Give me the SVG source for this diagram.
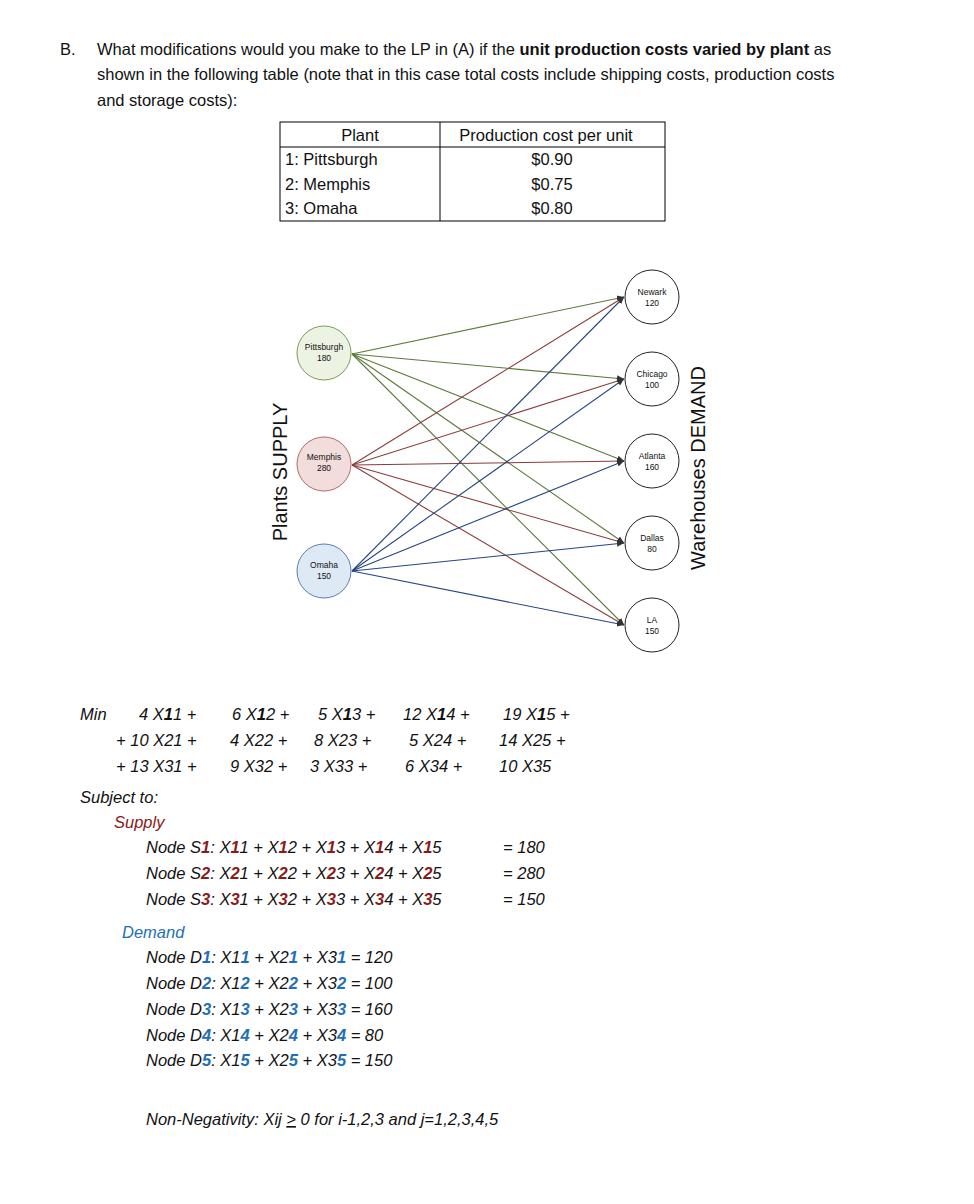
<svg xmlns="http://www.w3.org/2000/svg" width="974" height="1204" viewBox="0 0 974 1204">
<style>
text{font-family:"Liberation Sans",Arial,sans-serif;fill:#111}
.t{font-size:16.5px}
.i{font-size:16.5px;font-style:italic}
.b{font-weight:bold}
.r{fill:#8b1a1a;font-weight:bold}
.u{fill:#1f6fb5;font-weight:bold}
.n{font-size:8.5px;text-anchor:middle}
.g{stroke-width:1.1;fill:none}
</style>
<defs>
<marker id="a" markerWidth="8" markerHeight="8" refX="7" refY="4" orient="auto" markerUnits="userSpaceOnUse"><path d="M0,1 L7,4 L0,7z" fill="#333"/></marker>
</defs>
<rect width="974" height="1204" fill="#fff"/>
<text class="t" x="60" y="55">B.</text>
<text class="t" x="97" y="55">What modifications would you make to the LP in (A) if the <tspan class="b">unit production costs varied by plant</tspan> as</text>
<text class="t" x="97" y="80">shown in the following table (note that in this case total costs include shipping costs, production costs</text>
<text class="t" x="97" y="106">and storage costs):</text>
<g id="table" fill="none" stroke="#000" stroke-width="1">
<rect x="280" y="122" width="385" height="99"/>
<line x1="440" y1="122" x2="440" y2="221"/>
<line x1="280" y1="147" x2="665" y2="147"/>
</g>
<g class="t">
<text class="t" x="360" y="141" text-anchor="middle">Plant</text>
<text class="t" x="546" y="141" text-anchor="middle">Production cost per unit</text>
<text class="t" x="285" y="165">1: Pittsburgh</text>
<text class="t" x="285" y="190">2: Memphis</text>
<text class="t" x="285" y="214">3: Omaha</text>
<text class="t" x="552" y="165" text-anchor="middle">$0.90</text>
<text class="t" x="552" y="190" text-anchor="middle">$0.75</text>
<text class="t" x="552" y="214" text-anchor="middle">$0.80</text>
</g>
<g id="connectors" marker-end="url(#a)">
<g stroke="#5e7a3c" class="g">
<path d="M352,354 L624,297"/><path d="M352,354 L624,379"/><path d="M352,354 L624,461"/><path d="M352,354 L624,543"/><path d="M352,354 L624,625"/>
</g>
<g stroke="#8a3b3b" class="g">
<path d="M352,465 L624,297"/><path d="M352,465 L624,379"/><path d="M352,465 L624,461"/><path d="M352,465 L624,543"/><path d="M352,465 L624,625"/>
</g>
<g stroke="#27467f" class="g">
<path d="M352,571 L624,297"/><path d="M352,571 L624,379"/><path d="M352,571 L624,461"/><path d="M352,571 L624,543"/><path d="M352,571 L624,625"/>
</g>
</g>
<g id="pittsburgh"><circle cx="324" cy="353" r="27" fill="#edf3e3" stroke="#7a9a5a"/><text class="n" x="324" y="350">Pittsburgh</text><text class="n" x="324" y="361">180</text></g>
<g id="memphis"><circle cx="324" cy="464" r="27" fill="#f3dcdc" stroke="#b06a6a"/><text class="n" x="324" y="460">Memphis</text><text class="n" x="324" y="471">280</text></g>
<g id="omaha"><circle cx="324" cy="571" r="27" fill="#dde9f5" stroke="#5a7fa8"/><text class="n" x="324" y="568">Omaha</text><text class="n" x="324" y="579">150</text></g>
<g id="newark"><circle cx="652" cy="297" r="27" fill="#fff" stroke="#222"/><text class="n" x="652" y="295">Newark</text><text class="n" x="652" y="306">120</text></g>
<g id="chicago"><circle cx="652" cy="379" r="27" fill="#fff" stroke="#222"/><text class="n" x="652" y="377">Chicago</text><text class="n" x="652" y="388">100</text></g>
<g id="atlanta"><circle cx="652" cy="461" r="27" fill="#fff" stroke="#222"/><text class="n" x="652" y="459">Atlanta</text><text class="n" x="652" y="470">160</text></g>
<g id="dallas"><circle cx="652" cy="543" r="27" fill="#fff" stroke="#222"/><text class="n" x="652" y="541">Dallas</text><text class="n" x="652" y="552">80</text></g>
<g id="la"><circle cx="652" cy="625" r="27" fill="#fff" stroke="#222"/><text class="n" x="652" y="623">LA</text><text class="n" x="652" y="634">150</text></g>
<text x="282" y="472" font-size="20" text-anchor="middle" transform="rotate(-90 282 472)" dominant-baseline="middle">Plants SUPPLY</text>
<text x="700" y="468" font-size="20" text-anchor="middle" transform="rotate(-90 700 468)" dominant-baseline="middle">Warehouses DEMAND</text>
<g class="i">
<text class="i" x="80" y="720">Min</text>
<text class="i" x="139" y="720">4 X<tspan class="b">1</tspan>1 +</text>
<text class="i" x="232" y="720">6 X<tspan class="b">1</tspan>2 +</text>
<text class="i" x="318" y="720">5 X<tspan class="b">1</tspan>3 +</text>
<text class="i" x="403" y="720">12 X<tspan class="b">1</tspan>4 +</text>
<text class="i" x="503" y="720">19 X<tspan class="b">1</tspan>5 +</text>
<text class="i" x="116" y="746">+  10 X21 +</text>
<text class="i" x="230" y="746">4 X22 +</text>
<text class="i" x="314" y="746">8 X23 +</text>
<text class="i" x="409" y="746">5 X24 +</text>
<text class="i" x="499" y="746">14 X25 +</text>
<text class="i" x="116" y="772">+  13 X31 +</text>
<text class="i" x="230" y="772">9 X32 +</text>
<text class="i" x="310" y="772">3 X33 +</text>
<text class="i" x="405" y="772">6 X34 +</text>
<text class="i" x="499" y="772">10 X35</text>
<text class="i" x="80" y="803">Subject to:</text>
<text class="i" x="114" y="828" fill="#8b1a1a" style="fill:#8b1a1a">Supply</text>
<text class="i" x="146" y="853">Node S<tspan class="r">1</tspan>:  X<tspan class="r">1</tspan>1 + X<tspan class="r">1</tspan>2 + X<tspan class="r">1</tspan>3 + X<tspan class="r">1</tspan>4 + X<tspan class="r">1</tspan>5</text>
<text class="i" x="146" y="879">Node S<tspan class="r">2</tspan>:  X<tspan class="r">2</tspan>1 + X<tspan class="r">2</tspan>2 + X<tspan class="r">2</tspan>3 + X<tspan class="r">2</tspan>4 + X<tspan class="r">2</tspan>5</text>
<text class="i" x="146" y="905">Node S<tspan class="r">3</tspan>:  X<tspan class="r">3</tspan>1 + X<tspan class="r">3</tspan>2 + X<tspan class="r">3</tspan>3 + X<tspan class="r">3</tspan>4 + X<tspan class="r">3</tspan>5</text>
<text class="i" x="503" y="853">= 180</text>
<text class="i" x="503" y="879">= 280</text>
<text class="i" x="503" y="905">= 150</text>
<text class="i" x="122" y="938" style="fill:#1f6fb5">Demand</text>
<text class="i" x="146" y="963">Node D<tspan class="u">1</tspan>: X1<tspan class="u">1</tspan> + X2<tspan class="u">1</tspan> + X3<tspan class="u">1</tspan> = 120</text>
<text class="i" x="146" y="989">Node D<tspan class="u">2</tspan>: X1<tspan class="u">2</tspan> + X2<tspan class="u">2</tspan> + X3<tspan class="u">2</tspan> = 100</text>
<text class="i" x="146" y="1015">Node D<tspan class="u">3</tspan>: X1<tspan class="u">3</tspan> + X2<tspan class="u">3</tspan> + X3<tspan class="u">3</tspan> = 160</text>
<text class="i" x="146" y="1041">Node D<tspan class="u">4</tspan>: X1<tspan class="u">4</tspan> + X2<tspan class="u">4</tspan> + X3<tspan class="u">4</tspan> =  80</text>
<text class="i" x="146" y="1066">Node D<tspan class="u">5</tspan>: X1<tspan class="u">5</tspan> + X2<tspan class="u">5</tspan> + X3<tspan class="u">5</tspan> = 150</text>
<text class="i" x="146" y="1125">Non-Negativity: Xij <tspan text-decoration="underline">&gt;</tspan> 0 for i-1,2,3 and j=1,2,3,4,5</text>
</g>
</svg>
